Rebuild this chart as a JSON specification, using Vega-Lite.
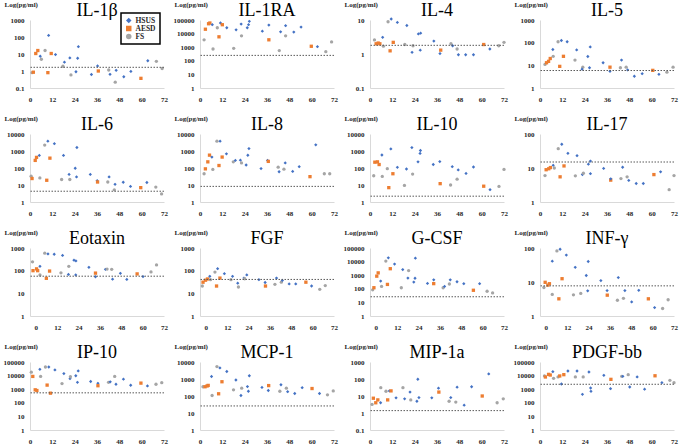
{
  "$schema": "https://vega.github.io/schema/vega-lite/v6.json",
  "background": "white",
  "padding": {"left": 3, "top": 0, "right": 2, "bottom": 2},
  "columns": 4,
  "spacing": {"row": 46, "column": 36},
  "bounds": "flush",
  "datasets": {
    "cutoffs": [
      {"panel": "IL-1β", "value": 1.65}, {"panel": "IL-1RA", "value": 250}, {"panel": "IL-4", "value": 1.8}, {"panel": "IL-5", "value": 5.9},
      {"panel": "IL-6", "value": 4.3}, {"panel": "IL-8", "value": 8.3}, {"panel": "IL-10", "value": 2.2}, {"panel": "IL-17", "value": 15},
      {"panel": "Eotaxin", "value": 57}, {"panel": "FGF", "value": 41}, {"panel": "G-CSF", "value": 26}, {"panel": "INF-γ", "value": 7.7},
      {"panel": "IP-10", "value": 540}, {"panel": "MCP-1", "value": 26}, {"panel": "MIP-1a", "value": 1.38}, {"panel": "PDGF-bb", "value": 2300}
    ],
    "cytokines": [
      {"panel": "IL-1β", "group": "FS", "hour": 1.1, "value": 0.8},
      {"panel": "IL-1β", "group": "AESD", "hour": 1.8, "value": 0.85},
      {"panel": "IL-1β", "group": "AESD", "hour": 3.1, "value": 10.7},
      {"panel": "IL-1β", "group": "AESD", "hour": 4.2, "value": 16},
      {"panel": "IL-1β", "group": "HSUS", "hour": 5.5, "value": 7.4},
      {"panel": "IL-1β", "group": "FS", "hour": 6.1, "value": 4.9},
      {"panel": "IL-1β", "group": "FS", "hour": 8.1, "value": 16},
      {"panel": "IL-1β", "group": "HSUS", "hour": 10, "value": 124},
      {"panel": "IL-1β", "group": "AESD", "hour": 9.6, "value": 0.8},
      {"panel": "IL-1β", "group": "AESD", "hour": 11.4, "value": 10.7},
      {"panel": "IL-1β", "group": "HSUS", "hour": 13.7, "value": 9.3},
      {"panel": "IL-1β", "group": "FS", "hour": 17.7, "value": 1.9},
      {"panel": "IL-1β", "group": "HSUS", "hour": 18.5, "value": 3.3},
      {"panel": "IL-1β", "group": "HSUS", "hour": 21.4, "value": 5.9},
      {"panel": "IL-1β", "group": "FS", "hour": 22, "value": 0.59},
      {"panel": "IL-1β", "group": "HSUS", "hour": 24.7, "value": 0.9},
      {"panel": "IL-1β", "group": "HSUS", "hour": 26, "value": 27},
      {"panel": "IL-1β", "group": "HSUS", "hour": 25.6, "value": 5.6},
      {"panel": "IL-1β", "group": "HSUS", "hour": 33, "value": 0.62},
      {"panel": "IL-1β", "group": "HSUS", "hour": 36.3, "value": 2.0},
      {"panel": "IL-1β", "group": "AESD", "hour": 36.7, "value": 1.0},
      {"panel": "IL-1β", "group": "FS", "hour": 42.3, "value": 1.15},
      {"panel": "IL-1β", "group": "HSUS", "hour": 43, "value": 0.64},
      {"panel": "IL-1β", "group": "HSUS", "hour": 46.3, "value": 1.1},
      {"panel": "IL-1β", "group": "FS", "hour": 45.8, "value": 0.22},
      {"panel": "IL-1β", "group": "HSUS", "hour": 50.4, "value": 0.46},
      {"panel": "IL-1β", "group": "HSUS", "hour": 54.2, "value": 0.95},
      {"panel": "IL-1β", "group": "AESD", "hour": 59.6, "value": 0.37},
      {"panel": "IL-1β", "group": "HSUS", "hour": 63.3, "value": 4.0},
      {"panel": "IL-1β", "group": "FS", "hour": 67.9, "value": 3.7},
      {"panel": "IL-1β", "group": "FS", "hour": 71, "value": 1.4},

      {"panel": "IL-1RA", "group": "FS", "hour": 2.2, "value": 3500},
      {"panel": "IL-1RA", "group": "AESD", "hour": 2.9, "value": 21000},
      {"panel": "IL-1RA", "group": "AESD", "hour": 4.6, "value": 53000},
      {"panel": "IL-1RA", "group": "AESD", "hour": 5.3, "value": 60000},
      {"panel": "IL-1RA", "group": "HSUS", "hour": 6.6, "value": 45000},
      {"panel": "IL-1RA", "group": "FS", "hour": 7, "value": 740},
      {"panel": "IL-1RA", "group": "FS", "hour": 9.3, "value": 27000},
      {"panel": "IL-1RA", "group": "AESD", "hour": 10.2, "value": 5800},
      {"panel": "IL-1RA", "group": "HSUS", "hour": 11, "value": 60000},
      {"panel": "IL-1RA", "group": "AESD", "hour": 12, "value": 45000},
      {"panel": "IL-1RA", "group": "HSUS", "hour": 14.4, "value": 27000},
      {"panel": "IL-1RA", "group": "FS", "hour": 18.1, "value": 830},
      {"panel": "IL-1RA", "group": "HSUS", "hour": 19.4, "value": 19000},
      {"panel": "IL-1RA", "group": "HSUS", "hour": 22.1, "value": 50000},
      {"panel": "IL-1RA", "group": "FS", "hour": 22.3, "value": 6900},
      {"panel": "IL-1RA", "group": "HSUS", "hour": 25.4, "value": 27000},
      {"panel": "IL-1RA", "group": "HSUS", "hour": 26.1, "value": 45000},
      {"panel": "IL-1RA", "group": "HSUS", "hour": 26.5, "value": 80000},
      {"panel": "IL-1RA", "group": "HSUS", "hour": 33.5, "value": 15000},
      {"panel": "IL-1RA", "group": "HSUS", "hour": 37, "value": 42000},
      {"panel": "IL-1RA", "group": "AESD", "hour": 37, "value": 3500},
      {"panel": "IL-1RA", "group": "FS", "hour": 42.6, "value": 560},
      {"panel": "IL-1RA", "group": "HSUS", "hour": 43.3, "value": 13500},
      {"panel": "IL-1RA", "group": "FS", "hour": 46, "value": 6900},
      {"panel": "IL-1RA", "group": "HSUS", "hour": 46, "value": 38000},
      {"panel": "IL-1RA", "group": "HSUS", "hour": 50.4, "value": 13000},
      {"panel": "IL-1RA", "group": "HSUS", "hour": 54.3, "value": 30000},
      {"panel": "IL-1RA", "group": "AESD", "hour": 59.8, "value": 1170},
      {"panel": "IL-1RA", "group": "HSUS", "hour": 63.1, "value": 1100},
      {"panel": "IL-1RA", "group": "FS", "hour": 67.6, "value": 470},
      {"panel": "IL-1RA", "group": "FS", "hour": 70.7, "value": 2450},

      {"panel": "IL-4", "group": "FS", "hour": 2.4, "value": 2.6},
      {"panel": "IL-4", "group": "AESD", "hour": 3.3, "value": 2.0},
      {"panel": "IL-4", "group": "AESD", "hour": 4.4, "value": 2.1},
      {"panel": "IL-4", "group": "AESD", "hour": 5.3, "value": 2.0},
      {"panel": "IL-4", "group": "HSUS", "hour": 6.8, "value": 3.1},
      {"panel": "IL-4", "group": "FS", "hour": 7.2, "value": 1.7},
      {"panel": "IL-4", "group": "FS", "hour": 9.7, "value": 8.9},
      {"panel": "IL-4", "group": "HSUS", "hour": 11.4, "value": 10.7},
      {"panel": "IL-4", "group": "AESD", "hour": 12.5, "value": 2.2},
      {"panel": "IL-4", "group": "AESD", "hour": 10.8, "value": 1.24},
      {"panel": "IL-4", "group": "HSUS", "hour": 14.7, "value": 8.5},
      {"panel": "IL-4", "group": "FS", "hour": 18.7, "value": 1.9},
      {"panel": "IL-4", "group": "HSUS", "hour": 19.8, "value": 6.9},
      {"panel": "IL-4", "group": "HSUS", "hour": 22.6, "value": 1.12},
      {"panel": "IL-4", "group": "FS", "hour": 23.1, "value": 1.75},
      {"panel": "IL-4", "group": "HSUS", "hour": 26, "value": 3.9},
      {"panel": "IL-4", "group": "HSUS", "hour": 27.2, "value": 4.1},
      {"panel": "IL-4", "group": "HSUS", "hour": 27, "value": 1.3},
      {"panel": "IL-4", "group": "HSUS", "hour": 34.3, "value": 2.4},
      {"panel": "IL-4", "group": "AESD", "hour": 38, "value": 1.3},
      {"panel": "IL-4", "group": "HSUS", "hour": 37.6, "value": 1.03},
      {"panel": "IL-4", "group": "FS", "hour": 43.5, "value": 2.0},
      {"panel": "IL-4", "group": "HSUS", "hour": 44.4, "value": 1.75},
      {"panel": "IL-4", "group": "FS", "hour": 46.8, "value": 1.4},
      {"panel": "IL-4", "group": "HSUS", "hour": 47.5, "value": 0.95},
      {"panel": "IL-4", "group": "HSUS", "hour": 51.4, "value": 0.95},
      {"panel": "IL-4", "group": "HSUS", "hour": 55.6, "value": 0.95},
      {"panel": "IL-4", "group": "AESD", "hour": 61.1, "value": 1.9},
      {"panel": "IL-4", "group": "HSUS", "hour": 64.4, "value": 1.4},
      {"panel": "IL-4", "group": "FS", "hour": 69.2, "value": 1.75},
      {"panel": "IL-4", "group": "FS", "hour": 72, "value": 2.2},

      {"panel": "IL-5", "group": "FS", "hour": 2.7, "value": 11},
      {"panel": "IL-5", "group": "AESD", "hour": 3.5, "value": 13},
      {"panel": "IL-5", "group": "AESD", "hour": 4.6, "value": 15},
      {"panel": "IL-5", "group": "AESD", "hour": 5.5, "value": 20},
      {"panel": "IL-5", "group": "FS", "hour": 7.1, "value": 25},
      {"panel": "IL-5", "group": "HSUS", "hour": 6.9, "value": 50},
      {"panel": "IL-5", "group": "FS", "hour": 9.7, "value": 110},
      {"panel": "IL-5", "group": "AESD", "hour": 10.6, "value": 9},
      {"panel": "IL-5", "group": "HSUS", "hour": 11.5, "value": 125},
      {"panel": "IL-5", "group": "AESD", "hour": 12.6, "value": 25},
      {"panel": "IL-5", "group": "HSUS", "hour": 14.6, "value": 110},
      {"panel": "IL-5", "group": "FS", "hour": 18.8, "value": 17},
      {"panel": "IL-5", "group": "HSUS", "hour": 19.7, "value": 48},
      {"panel": "IL-5", "group": "FS", "hour": 23, "value": 8.3},
      {"panel": "IL-5", "group": "HSUS", "hour": 22.6, "value": 6.8},
      {"panel": "IL-5", "group": "HSUS", "hour": 25.7, "value": 24.5},
      {"panel": "IL-5", "group": "HSUS", "hour": 27, "value": 65},
      {"panel": "IL-5", "group": "HSUS", "hour": 26.6, "value": 7.8},
      {"panel": "IL-5", "group": "HSUS", "hour": 33.9, "value": 13},
      {"panel": "IL-5", "group": "AESD", "hour": 37.6, "value": 8.3},
      {"panel": "IL-5", "group": "HSUS", "hour": 37.6, "value": 5.5},
      {"panel": "IL-5", "group": "FS", "hour": 43.2, "value": 7.8},
      {"panel": "IL-5", "group": "HSUS", "hour": 43.8, "value": 17},
      {"panel": "IL-5", "group": "FS", "hour": 46.3, "value": 8.3},
      {"panel": "IL-5", "group": "HSUS", "hour": 47.1, "value": 6.3},
      {"panel": "IL-5", "group": "HSUS", "hour": 50.7, "value": 3.3},
      {"panel": "IL-5", "group": "HSUS", "hour": 54.9, "value": 4.3},
      {"panel": "IL-5", "group": "AESD", "hour": 60.6, "value": 6},
      {"panel": "IL-5", "group": "HSUS", "hour": 63.9, "value": 4},
      {"panel": "IL-5", "group": "FS", "hour": 68.2, "value": 5},
      {"panel": "IL-5", "group": "FS", "hour": 71.5, "value": 8.3},

      {"panel": "IL-6", "group": "FS", "hour": 0.6, "value": 33},
      {"panel": "IL-6", "group": "AESD", "hour": 1.1, "value": 24},
      {"panel": "IL-6", "group": "AESD", "hour": 2.8, "value": 280},
      {"panel": "IL-6", "group": "AESD", "hour": 3.5, "value": 420},
      {"panel": "IL-6", "group": "HSUS", "hour": 5, "value": 550},
      {"panel": "IL-6", "group": "FS", "hour": 5.3, "value": 26},
      {"panel": "IL-6", "group": "FS", "hour": 7.9, "value": 2240},
      {"panel": "IL-6", "group": "HSUS", "hour": 9.6, "value": 3800},
      {"panel": "IL-6", "group": "AESD", "hour": 9, "value": 19},
      {"panel": "IL-6", "group": "AESD", "hour": 10.7, "value": 380},
      {"panel": "IL-6", "group": "HSUS", "hour": 13.1, "value": 2700},
      {"panel": "IL-6", "group": "FS", "hour": 17, "value": 21},
      {"panel": "IL-6", "group": "HSUS", "hour": 18, "value": 550},
      {"panel": "IL-6", "group": "HSUS", "hour": 21, "value": 42},
      {"panel": "IL-6", "group": "FS", "hour": 21.4, "value": 21},
      {"panel": "IL-6", "group": "HSUS", "hour": 24.3, "value": 97},
      {"panel": "IL-6", "group": "HSUS", "hour": 25.2, "value": 1600},
      {"panel": "IL-6", "group": "HSUS", "hour": 25, "value": 30},
      {"panel": "IL-6", "group": "HSUS", "hour": 32.4, "value": 42},
      {"panel": "IL-6", "group": "HSUS", "hour": 36.1, "value": 18},
      {"panel": "IL-6", "group": "AESD", "hour": 36.3, "value": 15},
      {"panel": "IL-6", "group": "FS", "hour": 41.8, "value": 15},
      {"panel": "IL-6", "group": "HSUS", "hour": 42.5, "value": 30},
      {"panel": "IL-6", "group": "FS", "hour": 45.3, "value": 5.2},
      {"panel": "IL-6", "group": "HSUS", "hour": 45.7, "value": 11},
      {"panel": "IL-6", "group": "HSUS", "hour": 50.1, "value": 14.5},
      {"panel": "IL-6", "group": "HSUS", "hour": 54, "value": 8.3},
      {"panel": "IL-6", "group": "AESD", "hour": 59.5, "value": 7},
      {"panel": "IL-6", "group": "HSUS", "hour": 62.8, "value": 14},
      {"panel": "IL-6", "group": "FS", "hour": 67.6, "value": 7.5},
      {"panel": "IL-6", "group": "FS", "hour": 70.7, "value": 3},

      {"panel": "IL-8", "group": "FS", "hour": 2.2, "value": 46},
      {"panel": "IL-8", "group": "AESD", "hour": 2.9, "value": 89},
      {"panel": "IL-8", "group": "AESD", "hour": 4.2, "value": 230},
      {"panel": "IL-8", "group": "AESD", "hour": 5.1, "value": 570},
      {"panel": "IL-8", "group": "HSUS", "hour": 6.4, "value": 440},
      {"panel": "IL-8", "group": "FS", "hour": 6.9, "value": 82},
      {"panel": "IL-8", "group": "FS", "hour": 9.1, "value": 3800},
      {"panel": "IL-8", "group": "HSUS", "hour": 10.8, "value": 3800},
      {"panel": "IL-8", "group": "AESD", "hour": 10.2, "value": 140},
      {"panel": "IL-8", "group": "AESD", "hour": 11.9, "value": 440},
      {"panel": "IL-8", "group": "HSUS", "hour": 14.2, "value": 680},
      {"panel": "IL-8", "group": "FS", "hour": 17.9, "value": 230},
      {"panel": "IL-8", "group": "HSUS", "hour": 19, "value": 280},
      {"panel": "IL-8", "group": "HSUS", "hour": 21.7, "value": 290},
      {"panel": "IL-8", "group": "FS", "hour": 22.3, "value": 200},
      {"panel": "IL-8", "group": "HSUS", "hour": 24.8, "value": 150},
      {"panel": "IL-8", "group": "HSUS", "hour": 25.7, "value": 560},
      {"panel": "IL-8", "group": "HSUS", "hour": 26.3, "value": 1380},
      {"panel": "IL-8", "group": "HSUS", "hour": 32.8, "value": 93},
      {"panel": "IL-8", "group": "HSUS", "hour": 36.3, "value": 280},
      {"panel": "IL-8", "group": "AESD", "hour": 36.7, "value": 245},
      {"panel": "IL-8", "group": "FS", "hour": 42, "value": 112},
      {"panel": "IL-8", "group": "HSUS", "hour": 42.5, "value": 60},
      {"panel": "IL-8", "group": "FS", "hour": 45.1, "value": 85},
      {"panel": "IL-8", "group": "HSUS", "hour": 45.8, "value": 200},
      {"panel": "IL-8", "group": "HSUS", "hour": 49.8, "value": 63},
      {"panel": "IL-8", "group": "HSUS", "hour": 53.3, "value": 120},
      {"panel": "IL-8", "group": "AESD", "hour": 59.1, "value": 31},
      {"panel": "IL-8", "group": "HSUS", "hour": 62.2, "value": 2300},
      {"panel": "IL-8", "group": "FS", "hour": 66.8, "value": 46},
      {"panel": "IL-8", "group": "FS", "hour": 69.7, "value": 46},

      {"panel": "IL-10", "group": "FS", "hour": 2, "value": 35},
      {"panel": "IL-10", "group": "AESD", "hour": 2.6, "value": 220},
      {"panel": "IL-10", "group": "AESD", "hour": 4, "value": 230},
      {"panel": "IL-10", "group": "AESD", "hour": 4.9, "value": 160},
      {"panel": "IL-10", "group": "HSUS", "hour": 6.4, "value": 580},
      {"panel": "IL-10", "group": "FS", "hour": 6.6, "value": 32},
      {"panel": "IL-10", "group": "FS", "hour": 9.3, "value": 91},
      {"panel": "IL-10", "group": "HSUS", "hour": 11.2, "value": 1330},
      {"panel": "IL-10", "group": "AESD", "hour": 10.1, "value": 7},
      {"panel": "IL-10", "group": "AESD", "hour": 12.3, "value": 46},
      {"panel": "IL-10", "group": "HSUS", "hour": 14.7, "value": 110},
      {"panel": "IL-10", "group": "FS", "hour": 18.5, "value": 9.4},
      {"panel": "IL-10", "group": "HSUS", "hour": 19.6, "value": 87},
      {"panel": "IL-10", "group": "HSUS", "hour": 22.5, "value": 1580},
      {"panel": "IL-10", "group": "FS", "hour": 22.9, "value": 44},
      {"panel": "IL-10", "group": "HSUS", "hour": 25.8, "value": 230},
      {"panel": "IL-10", "group": "HSUS", "hour": 26.9, "value": 720},
      {"panel": "IL-10", "group": "HSUS", "hour": 27.1, "value": 1070},
      {"panel": "IL-10", "group": "HSUS", "hour": 34, "value": 160},
      {"panel": "IL-10", "group": "HSUS", "hour": 37.5, "value": 240},
      {"panel": "IL-10", "group": "AESD", "hour": 37.7, "value": 12},
      {"panel": "IL-10", "group": "FS", "hour": 43.3, "value": 10},
      {"panel": "IL-10", "group": "HSUS", "hour": 44.2, "value": 120},
      {"panel": "IL-10", "group": "FS", "hour": 46.8, "value": 22},
      {"panel": "IL-10", "group": "HSUS", "hour": 47.4, "value": 77},
      {"panel": "IL-10", "group": "HSUS", "hour": 51.6, "value": 48},
      {"panel": "IL-10", "group": "HSUS", "hour": 55.6, "value": 115},
      {"panel": "IL-10", "group": "AESD", "hour": 61.1, "value": 8.5},
      {"panel": "IL-10", "group": "HSUS", "hour": 64.5, "value": 5.3},
      {"panel": "IL-10", "group": "FS", "hour": 69.3, "value": 8.2},
      {"panel": "IL-10", "group": "FS", "hour": 72, "value": 83},

      {"panel": "IL-17", "group": "FS", "hour": 2.7, "value": 6},
      {"panel": "IL-17", "group": "AESD", "hour": 3.3, "value": 8.9},
      {"panel": "IL-17", "group": "AESD", "hour": 4.7, "value": 9.5},
      {"panel": "IL-17", "group": "AESD", "hour": 5.6, "value": 10.3},
      {"panel": "IL-17", "group": "HSUS", "hour": 7.1, "value": 12},
      {"panel": "IL-17", "group": "FS", "hour": 7.7, "value": 10},
      {"panel": "IL-17", "group": "FS", "hour": 9.8, "value": 37},
      {"panel": "IL-17", "group": "HSUS", "hour": 11.7, "value": 50},
      {"panel": "IL-17", "group": "AESD", "hour": 10.8, "value": 5.5},
      {"panel": "IL-17", "group": "AESD", "hour": 12.9, "value": 11.5},
      {"panel": "IL-17", "group": "HSUS", "hour": 15, "value": 27},
      {"panel": "IL-17", "group": "FS", "hour": 19, "value": 5.9},
      {"panel": "IL-17", "group": "HSUS", "hour": 19.9, "value": 23},
      {"panel": "IL-17", "group": "HSUS", "hour": 22.8, "value": 6.4},
      {"panel": "IL-17", "group": "FS", "hour": 23.3, "value": 7},
      {"panel": "IL-17", "group": "HSUS", "hour": 26, "value": 13},
      {"panel": "IL-17", "group": "HSUS", "hour": 27.1, "value": 16},
      {"panel": "IL-17", "group": "HSUS", "hour": 27.1, "value": 6.8},
      {"panel": "IL-17", "group": "HSUS", "hour": 34.2, "value": 9.7},
      {"panel": "IL-17", "group": "AESD", "hour": 38, "value": 4.4},
      {"panel": "IL-17", "group": "HSUS", "hour": 38, "value": 4.8},
      {"panel": "IL-17", "group": "FS", "hour": 43.5, "value": 4.9},
      {"panel": "IL-17", "group": "HSUS", "hour": 44.4, "value": 10.5},
      {"panel": "IL-17", "group": "FS", "hour": 46.8, "value": 5.5},
      {"panel": "IL-17", "group": "HSUS", "hour": 47.7, "value": 4.3},
      {"panel": "IL-17", "group": "HSUS", "hour": 51.7, "value": 3.5},
      {"panel": "IL-17", "group": "HSUS", "hour": 55.5, "value": 3.5},
      {"panel": "IL-17", "group": "AESD", "hour": 61.2, "value": 6.4},
      {"panel": "IL-17", "group": "HSUS", "hour": 64.8, "value": 7.7},
      {"panel": "IL-17", "group": "FS", "hour": 69.4, "value": 2.3},
      {"panel": "IL-17", "group": "FS", "hour": 72, "value": 6},

      {"panel": "Eotaxin", "group": "FS", "hour": -1.9, "value": 245},
      {"panel": "Eotaxin", "group": "AESD", "hour": -1.6, "value": 100},
      {"panel": "Eotaxin", "group": "AESD", "hour": 0.4, "value": 120},
      {"panel": "Eotaxin", "group": "AESD", "hour": 1.0, "value": 100},
      {"panel": "Eotaxin", "group": "HSUS", "hour": 2.3, "value": 155},
      {"panel": "Eotaxin", "group": "FS", "hour": 2.3, "value": 65},
      {"panel": "Eotaxin", "group": "FS", "hour": 5, "value": 590},
      {"panel": "Eotaxin", "group": "HSUS", "hour": 6.8, "value": 550},
      {"panel": "Eotaxin", "group": "AESD", "hour": 5.9, "value": 46},
      {"panel": "Eotaxin", "group": "AESD", "hour": 7.7, "value": 96},
      {"panel": "Eotaxin", "group": "HSUS", "hour": 10.3, "value": 530},
      {"panel": "Eotaxin", "group": "FS", "hour": 14.1, "value": 80},
      {"panel": "Eotaxin", "group": "HSUS", "hour": 15, "value": 470},
      {"panel": "Eotaxin", "group": "FS", "hour": 18.5, "value": 155},
      {"panel": "Eotaxin", "group": "HSUS", "hour": 18.3, "value": 68},
      {"panel": "Eotaxin", "group": "HSUS", "hour": 21.4, "value": 290},
      {"panel": "Eotaxin", "group": "HSUS", "hour": 22.5, "value": 270},
      {"panel": "Eotaxin", "group": "HSUS", "hour": 22.4, "value": 65},
      {"panel": "Eotaxin", "group": "HSUS", "hour": 29.8, "value": 140},
      {"panel": "Eotaxin", "group": "AESD", "hour": 33.5, "value": 78},
      {"panel": "Eotaxin", "group": "HSUS", "hour": 33.5, "value": 54},
      {"panel": "Eotaxin", "group": "HSUS", "hour": 39.1, "value": 115},
      {"panel": "Eotaxin", "group": "FS", "hour": 40, "value": 118},
      {"panel": "Eotaxin", "group": "FS", "hour": 42.6, "value": 115},
      {"panel": "Eotaxin", "group": "HSUS", "hour": 43.1, "value": 42},
      {"panel": "Eotaxin", "group": "HSUS", "hour": 47.5, "value": 76},
      {"panel": "Eotaxin", "group": "HSUS", "hour": 51.1, "value": 41},
      {"panel": "Eotaxin", "group": "AESD", "hour": 56.9, "value": 72},
      {"panel": "Eotaxin", "group": "HSUS", "hour": 60.2, "value": 55},
      {"panel": "Eotaxin", "group": "FS", "hour": 64.7, "value": 88},
      {"panel": "Eotaxin", "group": "FS", "hour": 67.8, "value": 180},

      {"panel": "FGF", "group": "FS", "hour": -2, "value": 21},
      {"panel": "FGF", "group": "AESD", "hour": -1.6, "value": 31},
      {"panel": "FGF", "group": "AESD", "hour": -0.2, "value": 38},
      {"panel": "FGF", "group": "AESD", "hour": 0.9, "value": 43},
      {"panel": "FGF", "group": "HSUS", "hour": 2.2, "value": 56},
      {"panel": "FGF", "group": "FS", "hour": 2.6, "value": 40},
      {"panel": "FGF", "group": "FS", "hour": 5.1, "value": 87},
      {"panel": "FGF", "group": "HSUS", "hour": 6.6, "value": 123},
      {"panel": "FGF", "group": "AESD", "hour": 6, "value": 21},
      {"panel": "FGF", "group": "AESD", "hour": 7.9, "value": 47},
      {"panel": "FGF", "group": "HSUS", "hour": 10.4, "value": 74},
      {"panel": "FGF", "group": "FS", "hour": 14.1, "value": 40},
      {"panel": "FGF", "group": "HSUS", "hour": 15, "value": 56},
      {"panel": "FGF", "group": "HSUS", "hour": 17.9, "value": 28},
      {"panel": "FGF", "group": "FS", "hour": 18.3, "value": 19},
      {"panel": "FGF", "group": "HSUS", "hour": 21.4, "value": 47},
      {"panel": "FGF", "group": "FS", "hour": 21.8, "value": 44},
      {"panel": "FGF", "group": "HSUS", "hour": 23, "value": 65},
      {"panel": "FGF", "group": "HSUS", "hour": 29.8, "value": 40},
      {"panel": "FGF", "group": "HSUS", "hour": 33.3, "value": 30},
      {"panel": "FGF", "group": "AESD", "hour": 33.5, "value": 21},
      {"panel": "FGF", "group": "FS", "hour": 38.8, "value": 25},
      {"panel": "FGF", "group": "HSUS", "hour": 39.7, "value": 47},
      {"panel": "FGF", "group": "FS", "hour": 42.4, "value": 31},
      {"panel": "FGF", "group": "HSUS", "hour": 43, "value": 37},
      {"panel": "FGF", "group": "HSUS", "hour": 46.8, "value": 26},
      {"panel": "FGF", "group": "HSUS", "hour": 50.5, "value": 26},
      {"panel": "FGF", "group": "AESD", "hour": 56.2, "value": 31},
      {"panel": "FGF", "group": "HSUS", "hour": 59.4, "value": 21},
      {"panel": "FGF", "group": "FS", "hour": 64, "value": 15},
      {"panel": "FGF", "group": "FS", "hour": 67.1, "value": 22},

      {"panel": "G-CSF", "group": "FS", "hour": -1.8, "value": 84},
      {"panel": "G-CSF", "group": "AESD", "hour": -1.1, "value": 120},
      {"panel": "G-CSF", "group": "AESD", "hour": 0.5, "value": 850},
      {"panel": "G-CSF", "group": "AESD", "hour": 1.3, "value": 1480},
      {"panel": "G-CSF", "group": "HSUS", "hour": 2.7, "value": 370},
      {"panel": "G-CSF", "group": "FS", "hour": 3.2, "value": 150},
      {"panel": "G-CSF", "group": "FS", "hour": 5.6, "value": 11000},
      {"panel": "G-CSF", "group": "HSUS", "hour": 7, "value": 19000},
      {"panel": "G-CSF", "group": "AESD", "hour": 6.5, "value": 210},
      {"panel": "G-CSF", "group": "AESD", "hour": 8.1, "value": 3000},
      {"panel": "G-CSF", "group": "HSUS", "hour": 10.5, "value": 6600},
      {"panel": "G-CSF", "group": "FS", "hour": 14.3, "value": 120},
      {"panel": "G-CSF", "group": "HSUS", "hour": 15.1, "value": 2600},
      {"panel": "G-CSF", "group": "HSUS", "hour": 18, "value": 610},
      {"panel": "G-CSF", "group": "FS", "hour": 18.4, "value": 2200},
      {"panel": "G-CSF", "group": "HSUS", "hour": 21.3, "value": 310},
      {"panel": "G-CSF", "group": "HSUS", "hour": 22.2, "value": 18000},
      {"panel": "G-CSF", "group": "HSUS", "hour": 22, "value": 600},
      {"panel": "G-CSF", "group": "HSUS", "hour": 29, "value": 250},
      {"panel": "G-CSF", "group": "AESD", "hour": 32.5, "value": 240},
      {"panel": "G-CSF", "group": "HSUS", "hour": 32.5, "value": 460},
      {"panel": "G-CSF", "group": "FS", "hour": 37.8, "value": 120},
      {"panel": "G-CSF", "group": "HSUS", "hour": 38.6, "value": 150},
      {"panel": "G-CSF", "group": "FS", "hour": 41.3, "value": 225},
      {"panel": "G-CSF", "group": "HSUS", "hour": 41.8, "value": 460},
      {"panel": "G-CSF", "group": "HSUS", "hour": 45.6, "value": 330},
      {"panel": "G-CSF", "group": "HSUS", "hour": 49.4, "value": 240},
      {"panel": "G-CSF", "group": "AESD", "hour": 54.8, "value": 78},
      {"panel": "G-CSF", "group": "HSUS", "hour": 58.3, "value": 240},
      {"panel": "G-CSF", "group": "FS", "hour": 62.5, "value": 66},
      {"panel": "G-CSF", "group": "FS", "hour": 65.6, "value": 50},

      {"panel": "INF-γ", "group": "FS", "hour": -1.1, "value": 6.9},
      {"panel": "INF-γ", "group": "AESD", "hour": -0.4, "value": 9.8},
      {"panel": "INF-γ", "group": "AESD", "hour": 1.1, "value": 8.1},
      {"panel": "INF-γ", "group": "AESD", "hour": 2, "value": 8.9},
      {"panel": "INF-γ", "group": "HSUS", "hour": 3.6, "value": 41},
      {"panel": "INF-γ", "group": "FS", "hour": 3.6, "value": 4.3},
      {"panel": "INF-γ", "group": "FS", "hour": 6.2, "value": 82},
      {"panel": "INF-γ", "group": "HSUS", "hour": 8, "value": 92},
      {"panel": "INF-γ", "group": "AESD", "hour": 7.3, "value": 3.2},
      {"panel": "INF-γ", "group": "AESD", "hour": 9.1, "value": 12.5},
      {"panel": "INF-γ", "group": "HSUS", "hour": 11.5, "value": 62},
      {"panel": "INF-γ", "group": "FS", "hour": 15.5, "value": 4.2},
      {"panel": "INF-γ", "group": "HSUS", "hour": 16.5, "value": 27},
      {"panel": "INF-γ", "group": "FS", "hour": 19.6, "value": 4.6},
      {"panel": "INF-γ", "group": "HSUS", "hour": 22.7, "value": 15.5},
      {"panel": "INF-γ", "group": "HSUS", "hour": 23.8, "value": 40},
      {"panel": "INF-γ", "group": "HSUS", "hour": 23.5, "value": 5.5},
      {"panel": "INF-γ", "group": "HSUS", "hour": 30.9, "value": 11},
      {"panel": "INF-γ", "group": "HSUS", "hour": 34.4, "value": 5.6},
      {"panel": "INF-γ", "group": "AESD", "hour": 34.5, "value": 4.1},
      {"panel": "INF-γ", "group": "FS", "hour": 40.2, "value": 2.9},
      {"panel": "INF-γ", "group": "HSUS", "hour": 40.7, "value": 13.5},
      {"panel": "INF-γ", "group": "FS", "hour": 43.6, "value": 3.3},
      {"panel": "INF-γ", "group": "HSUS", "hour": 44.4, "value": 5.6},
      {"panel": "INF-γ", "group": "HSUS", "hour": 48.2, "value": 2.6},
      {"panel": "INF-γ", "group": "HSUS", "hour": 52.2, "value": 5.7},
      {"panel": "INF-γ", "group": "AESD", "hour": 57.6, "value": 3.2},
      {"panel": "INF-γ", "group": "HSUS", "hour": 61.1, "value": 1.77},
      {"panel": "INF-γ", "group": "FS", "hour": 65.6, "value": 1.66},
      {"panel": "INF-γ", "group": "FS", "hour": 68.7, "value": 3},

      {"panel": "IP-10", "group": "FS", "hour": 0.7, "value": 18000},
      {"panel": "IP-10", "group": "AESD", "hour": 1.5, "value": 8700},
      {"panel": "IP-10", "group": "AESD", "hour": 2.8, "value": 900},
      {"panel": "IP-10", "group": "AESD", "hour": 3.7, "value": 800},
      {"panel": "IP-10", "group": "HSUS", "hour": 5.3, "value": 29000},
      {"panel": "IP-10", "group": "FS", "hour": 5.7, "value": 8700},
      {"panel": "IP-10", "group": "FS", "hour": 8.3, "value": 43000},
      {"panel": "IP-10", "group": "HSUS", "hour": 10.1, "value": 43000},
      {"panel": "IP-10", "group": "AESD", "hour": 9.2, "value": 2000},
      {"panel": "IP-10", "group": "AESD", "hour": 11, "value": 510},
      {"panel": "IP-10", "group": "HSUS", "hour": 13.4, "value": 26000},
      {"panel": "IP-10", "group": "FS", "hour": 17.2, "value": 2600},
      {"panel": "IP-10", "group": "HSUS", "hour": 18.2, "value": 14000},
      {"panel": "IP-10", "group": "HSUS", "hour": 21.5, "value": 5900},
      {"panel": "IP-10", "group": "FS", "hour": 21.7, "value": 8200},
      {"panel": "IP-10", "group": "HSUS", "hour": 24.6, "value": 9800},
      {"panel": "IP-10", "group": "HSUS", "hour": 25.9, "value": 22000},
      {"panel": "IP-10", "group": "HSUS", "hour": 25.5, "value": 3200},
      {"panel": "IP-10", "group": "HSUS", "hour": 32.6, "value": 3700},
      {"panel": "IP-10", "group": "HSUS", "hour": 36.5, "value": 2700},
      {"panel": "IP-10", "group": "AESD", "hour": 36.5, "value": 1800},
      {"panel": "IP-10", "group": "FS", "hour": 42.2, "value": 3200},
      {"panel": "IP-10", "group": "HSUS", "hour": 43.1, "value": 3500},
      {"panel": "IP-10", "group": "FS", "hour": 45.5, "value": 8700},
      {"panel": "IP-10", "group": "HSUS", "hour": 46.2, "value": 2300},
      {"panel": "IP-10", "group": "HSUS", "hour": 50.2, "value": 5500},
      {"panel": "IP-10", "group": "HSUS", "hour": 54.1, "value": 1950},
      {"panel": "IP-10", "group": "AESD", "hour": 59.6, "value": 2800},
      {"panel": "IP-10", "group": "HSUS", "hour": 63.1, "value": 1750},
      {"panel": "IP-10", "group": "FS", "hour": 67.7, "value": 2300},
      {"panel": "IP-10", "group": "FS", "hour": 70.8, "value": 3000},

      {"panel": "MCP-1", "group": "FS", "hour": 1.6, "value": 350},
      {"panel": "MCP-1", "group": "AESD", "hour": 2.7, "value": 350},
      {"panel": "MCP-1", "group": "AESD", "hour": 3.8, "value": 390},
      {"panel": "MCP-1", "group": "AESD", "hour": 4.4, "value": 420},
      {"panel": "MCP-1", "group": "HSUS", "hour": 6.2, "value": 1400},
      {"panel": "MCP-1", "group": "FS", "hour": 6.5, "value": 107},
      {"panel": "MCP-1", "group": "FS", "hour": 9.1, "value": 5400},
      {"panel": "MCP-1", "group": "HSUS", "hour": 10.7, "value": 4500},
      {"panel": "MCP-1", "group": "AESD", "hour": 10, "value": 135},
      {"panel": "MCP-1", "group": "AESD", "hour": 11.8, "value": 690},
      {"panel": "MCP-1", "group": "HSUS", "hour": 14.4, "value": 2750},
      {"panel": "MCP-1", "group": "FS", "hour": 18, "value": 230},
      {"panel": "MCP-1", "group": "HSUS", "hour": 19.3, "value": 870},
      {"panel": "MCP-1", "group": "HSUS", "hour": 22, "value": 107},
      {"panel": "MCP-1", "group": "FS", "hour": 22.4, "value": 290},
      {"panel": "MCP-1", "group": "HSUS", "hour": 25.5, "value": 360},
      {"panel": "MCP-1", "group": "HSUS", "hour": 26, "value": 190},
      {"panel": "MCP-1", "group": "HSUS", "hour": 26.5, "value": 1550},
      {"panel": "MCP-1", "group": "HSUS", "hour": 33.3, "value": 320},
      {"panel": "MCP-1", "group": "HSUS", "hour": 36.7, "value": 210},
      {"panel": "MCP-1", "group": "AESD", "hour": 36.9, "value": 410},
      {"panel": "MCP-1", "group": "FS", "hour": 42.9, "value": 190},
      {"panel": "MCP-1", "group": "HSUS", "hour": 43.5, "value": 460},
      {"panel": "MCP-1", "group": "FS", "hour": 46.4, "value": 290},
      {"panel": "MCP-1", "group": "HSUS", "hour": 47.1, "value": 180},
      {"panel": "MCP-1", "group": "HSUS", "hour": 50.9, "value": 140},
      {"panel": "MCP-1", "group": "HSUS", "hour": 54.9, "value": 310},
      {"panel": "MCP-1", "group": "AESD", "hour": 60.2, "value": 275},
      {"panel": "MCP-1", "group": "HSUS", "hour": 64.2, "value": 140},
      {"panel": "MCP-1", "group": "FS", "hour": 68.5, "value": 117},
      {"panel": "MCP-1", "group": "FS", "hour": 71.6, "value": 200},

      {"panel": "MIP-1a", "group": "FS", "hour": 1.1, "value": 3.2},
      {"panel": "MIP-1a", "group": "AESD", "hour": 1.8, "value": 7.4},
      {"panel": "MIP-1a", "group": "AESD", "hour": 3.1, "value": 4.0},
      {"panel": "MIP-1a", "group": "AESD", "hour": 4.2, "value": 5.9},
      {"panel": "MIP-1a", "group": "HSUS", "hour": 5.7, "value": 4.0},
      {"panel": "MIP-1a", "group": "FS", "hour": 5.8, "value": 31},
      {"panel": "MIP-1a", "group": "FS", "hour": 8.6, "value": 19},
      {"panel": "MIP-1a", "group": "HSUS", "hour": 10.4, "value": 20},
      {"panel": "MIP-1a", "group": "AESD", "hour": 9.5, "value": 5.9},
      {"panel": "MIP-1a", "group": "AESD", "hour": 11.3, "value": 20},
      {"panel": "MIP-1a", "group": "HSUS", "hour": 14, "value": 7.8},
      {"panel": "MIP-1a", "group": "FS", "hour": 17.7, "value": 31},
      {"panel": "MIP-1a", "group": "HSUS", "hour": 18.6, "value": 6.8},
      {"panel": "MIP-1a", "group": "HSUS", "hour": 21.5, "value": 17},
      {"panel": "MIP-1a", "group": "FS", "hour": 21.9, "value": 5.9},
      {"panel": "MIP-1a", "group": "HSUS", "hour": 25.2, "value": 4.9},
      {"panel": "MIP-1a", "group": "HSUS", "hour": 25.7, "value": 97},
      {"panel": "MIP-1a", "group": "HSUS", "hour": 26.3, "value": 8.1},
      {"panel": "MIP-1a", "group": "HSUS", "hour": 33.2, "value": 7.8},
      {"panel": "MIP-1a", "group": "HSUS", "hour": 36.8, "value": 29},
      {"panel": "MIP-1a", "group": "AESD", "hour": 37, "value": 17},
      {"panel": "MIP-1a", "group": "FS", "hour": 42.5, "value": 4.9},
      {"panel": "MIP-1a", "group": "HSUS", "hour": 43.4, "value": 8.1},
      {"panel": "MIP-1a", "group": "FS", "hour": 46.1, "value": 4.4},
      {"panel": "MIP-1a", "group": "HSUS", "hour": 46.8, "value": 33},
      {"panel": "MIP-1a", "group": "HSUS", "hour": 50.6, "value": 2.9},
      {"panel": "MIP-1a", "group": "HSUS", "hour": 54.6, "value": 35},
      {"panel": "MIP-1a", "group": "AESD", "hour": 60.3, "value": 10},
      {"panel": "MIP-1a", "group": "HSUS", "hour": 63.8, "value": 200},
      {"panel": "MIP-1a", "group": "FS", "hour": 68.3, "value": 4.0},
      {"panel": "MIP-1a", "group": "FS", "hour": 71.6, "value": 6.8},

      {"panel": "PDGF-bb", "group": "FS", "hour": 2.4, "value": 9400},
      {"panel": "PDGF-bb", "group": "AESD", "hour": 2.9, "value": 7900},
      {"panel": "PDGF-bb", "group": "AESD", "hour": 4.6, "value": 12300},
      {"panel": "PDGF-bb", "group": "AESD", "hour": 5.5, "value": 11000},
      {"panel": "PDGF-bb", "group": "HSUS", "hour": 6.9, "value": 19500},
      {"panel": "PDGF-bb", "group": "FS", "hour": 7.3, "value": 6300},
      {"panel": "PDGF-bb", "group": "FS", "hour": 9.7, "value": 8000},
      {"panel": "PDGF-bb", "group": "HSUS", "hour": 11.5, "value": 2400},
      {"panel": "PDGF-bb", "group": "AESD", "hour": 10.6, "value": 9400},
      {"panel": "PDGF-bb", "group": "AESD", "hour": 12.8, "value": 11700},
      {"panel": "PDGF-bb", "group": "HSUS", "hour": 15, "value": 21700},
      {"panel": "PDGF-bb", "group": "FS", "hour": 19, "value": 8000},
      {"panel": "PDGF-bb", "group": "HSUS", "hour": 19.9, "value": 21700},
      {"panel": "PDGF-bb", "group": "FS", "hour": 23.2, "value": 8000},
      {"panel": "PDGF-bb", "group": "HSUS", "hour": 22.8, "value": 420},
      {"panel": "PDGF-bb", "group": "HSUS", "hour": 26.3, "value": 18300},
      {"panel": "PDGF-bb", "group": "HSUS", "hour": 27.2, "value": 1230},
      {"panel": "PDGF-bb", "group": "HSUS", "hour": 27.4, "value": 700},
      {"panel": "PDGF-bb", "group": "HSUS", "hour": 34.3, "value": 10500},
      {"panel": "PDGF-bb", "group": "AESD", "hour": 38.1, "value": 5300},
      {"panel": "PDGF-bb", "group": "HSUS", "hour": 37.9, "value": 1100},
      {"panel": "PDGF-bb", "group": "FS", "hour": 43.9, "value": 8900},
      {"panel": "PDGF-bb", "group": "HSUS", "hour": 44.5, "value": 8900},
      {"panel": "PDGF-bb", "group": "FS", "hour": 47.4, "value": 11700},
      {"panel": "PDGF-bb", "group": "HSUS", "hour": 48.2, "value": 1450},
      {"panel": "PDGF-bb", "group": "HSUS", "hour": 52.2, "value": 8000},
      {"panel": "PDGF-bb", "group": "HSUS", "hour": 56.2, "value": 1000},
      {"panel": "PDGF-bb", "group": "AESD", "hour": 61.8, "value": 9700},
      {"panel": "PDGF-bb", "group": "HSUS", "hour": 65.5, "value": 3000},
      {"panel": "PDGF-bb", "group": "FS", "hour": 69.8, "value": 4500},
      {"panel": "PDGF-bb", "group": "FS", "hour": 72, "value": 3000}
    ]
  },
  "concat": [
    {"title": "IL-1β", "width": 134, "height": 68, "layer": [
      {"data": {"name": "cytokines"}, "transform": [{"filter": "datum.panel === 'IL-1β'"}], "mark": "point",
       "encoding": {
         "x": {"field": "hour", "type": "quantitative", "title": null, "scale": {"domain": [0, 72], "nice": false}, "axis": {"values": [0, 12, 24, 36, 48, 60, 72]}},
         "y": {"field": "value", "type": "quantitative", "title": "Log(pg/ml)", "scale": {"type": "log", "domain": [0.1, 1000]}, "axis": {"values": [0.1, 1, 10, 100, 1000], "format": "~g"}},
         "color": {"field": "group", "type": "nominal", "scale": {"domain": ["HSUS", "AESD", "FS"], "range": ["#4472C4", "#ED7D31", "#A5A5A5"]}, "legend": {"title": null, "orient": "none", "legendX": 91, "legendY": -7, "clipHeight": 7}},
         "shape": {"field": "group", "type": "nominal", "scale": {"domain": ["HSUS", "AESD", "FS"], "range": ["diamond", "square", "circle"]}, "legend": {"title": null, "orient": "none", "legendX": 91, "legendY": -7, "clipHeight": 7}}}},
      {"data": {"name": "cutoffs"}, "transform": [{"filter": "datum.panel === 'IL-1β'"}], "mark": "rule",
       "encoding": {"y": {"field": "value", "type": "quantitative"}}}
    ]},
    {"title": "IL-1RA", "width": 134, "height": 68, "layer": [
      {"data": {"name": "cytokines"}, "transform": [{"filter": "datum.panel === 'IL-1RA'"}], "mark": "point",
       "encoding": {
         "x": {"field": "hour", "type": "quantitative", "title": null, "scale": {"domain": [0, 72], "nice": false}, "axis": {"values": [0, 12, 24, 36, 48, 60, 72]}},
         "y": {"field": "value", "type": "quantitative", "title": "Log(pg/ml)", "scale": {"type": "log", "domain": [1, 100000]}, "axis": {"values": [1, 10, 100, 1000, 10000, 100000], "format": "~g"}},
         "color": {"field": "group", "type": "nominal", "legend": null},
         "shape": {"field": "group", "type": "nominal", "legend": null}}},
      {"data": {"name": "cutoffs"}, "transform": [{"filter": "datum.panel === 'IL-1RA'"}], "mark": "rule",
       "encoding": {"y": {"field": "value", "type": "quantitative"}}}
    ]},
    {"title": "IL-4", "width": 134, "height": 68, "layer": [
      {"data": {"name": "cytokines"}, "transform": [{"filter": "datum.panel === 'IL-4'"}], "mark": "point",
       "encoding": {
         "x": {"field": "hour", "type": "quantitative", "title": null, "scale": {"domain": [0, 72], "nice": false}, "axis": {"values": [0, 12, 24, 36, 48, 60, 72]}},
         "y": {"field": "value", "type": "quantitative", "title": "Log(pg/ml)", "scale": {"type": "log", "domain": [0.1, 10]}, "axis": {"values": [0.1, 1, 10], "format": "~g"}},
         "color": {"field": "group", "type": "nominal", "legend": null},
         "shape": {"field": "group", "type": "nominal", "legend": null}}},
      {"data": {"name": "cutoffs"}, "transform": [{"filter": "datum.panel === 'IL-4'"}], "mark": "rule",
       "encoding": {"y": {"field": "value", "type": "quantitative"}}}
    ]},
    {"title": "IL-5", "width": 134, "height": 68, "layer": [
      {"data": {"name": "cytokines"}, "transform": [{"filter": "datum.panel === 'IL-5'"}], "mark": "point",
       "encoding": {
         "x": {"field": "hour", "type": "quantitative", "title": null, "scale": {"domain": [0, 72], "nice": false}, "axis": {"values": [0, 12, 24, 36, 48, 60, 72]}},
         "y": {"field": "value", "type": "quantitative", "title": "Log(pg/ml)", "scale": {"type": "log", "domain": [1, 1000]}, "axis": {"values": [1, 10, 100, 1000], "format": "~g"}},
         "color": {"field": "group", "type": "nominal", "legend": null},
         "shape": {"field": "group", "type": "nominal", "legend": null}}},
      {"data": {"name": "cutoffs"}, "transform": [{"filter": "datum.panel === 'IL-5'"}], "mark": "rule",
       "encoding": {"y": {"field": "value", "type": "quantitative"}}}
    ]},
    {"title": "IL-6", "width": 134, "height": 68, "layer": [
      {"data": {"name": "cytokines"}, "transform": [{"filter": "datum.panel === 'IL-6'"}], "mark": "point",
       "encoding": {
         "x": {"field": "hour", "type": "quantitative", "title": null, "scale": {"domain": [0, 72], "nice": false}, "axis": {"values": [0, 12, 24, 36, 48, 60, 72]}},
         "y": {"field": "value", "type": "quantitative", "title": "Log(pg/ml)", "scale": {"type": "log", "domain": [1, 10000]}, "axis": {"values": [1, 10, 100, 1000, 10000], "format": "~g"}},
         "color": {"field": "group", "type": "nominal", "legend": null},
         "shape": {"field": "group", "type": "nominal", "legend": null}}},
      {"data": {"name": "cutoffs"}, "transform": [{"filter": "datum.panel === 'IL-6'"}], "mark": "rule",
       "encoding": {"y": {"field": "value", "type": "quantitative"}}}
    ]},
    {"title": "IL-8", "width": 134, "height": 68, "layer": [
      {"data": {"name": "cytokines"}, "transform": [{"filter": "datum.panel === 'IL-8'"}], "mark": "point",
       "encoding": {
         "x": {"field": "hour", "type": "quantitative", "title": null, "scale": {"domain": [0, 72], "nice": false}, "axis": {"values": [0, 12, 24, 36, 48, 60, 72]}},
         "y": {"field": "value", "type": "quantitative", "title": "Log(pg/ml)", "scale": {"type": "log", "domain": [1, 10000]}, "axis": {"values": [1, 10, 100, 1000, 10000], "format": "~g"}},
         "color": {"field": "group", "type": "nominal", "legend": null},
         "shape": {"field": "group", "type": "nominal", "legend": null}}},
      {"data": {"name": "cutoffs"}, "transform": [{"filter": "datum.panel === 'IL-8'"}], "mark": "rule",
       "encoding": {"y": {"field": "value", "type": "quantitative"}}}
    ]},
    {"title": "IL-10", "width": 134, "height": 68, "layer": [
      {"data": {"name": "cytokines"}, "transform": [{"filter": "datum.panel === 'IL-10'"}], "mark": "point",
       "encoding": {
         "x": {"field": "hour", "type": "quantitative", "title": null, "scale": {"domain": [0, 72], "nice": false}, "axis": {"values": [0, 12, 24, 36, 48, 60, 72]}},
         "y": {"field": "value", "type": "quantitative", "title": "Log(pg/ml)", "scale": {"type": "log", "domain": [1, 10000]}, "axis": {"values": [1, 10, 100, 1000, 10000], "format": "~g"}},
         "color": {"field": "group", "type": "nominal", "legend": null},
         "shape": {"field": "group", "type": "nominal", "legend": null}}},
      {"data": {"name": "cutoffs"}, "transform": [{"filter": "datum.panel === 'IL-10'"}], "mark": "rule",
       "encoding": {"y": {"field": "value", "type": "quantitative"}}}
    ]},
    {"title": "IL-17", "width": 134, "height": 68, "layer": [
      {"data": {"name": "cytokines"}, "transform": [{"filter": "datum.panel === 'IL-17'"}], "mark": "point",
       "encoding": {
         "x": {"field": "hour", "type": "quantitative", "title": null, "scale": {"domain": [0, 72], "nice": false}, "axis": {"values": [0, 12, 24, 36, 48, 60, 72]}},
         "y": {"field": "value", "type": "quantitative", "title": "Log(pg/ml)", "scale": {"type": "log", "domain": [1, 100]}, "axis": {"values": [1, 10, 100], "format": "~g"}},
         "color": {"field": "group", "type": "nominal", "legend": null},
         "shape": {"field": "group", "type": "nominal", "legend": null}}},
      {"data": {"name": "cutoffs"}, "transform": [{"filter": "datum.panel === 'IL-17'"}], "mark": "rule",
       "encoding": {"y": {"field": "value", "type": "quantitative"}}}
    ]},
    {"title": "Eotaxin", "width": 134, "height": 68, "layer": [
      {"data": {"name": "cytokines"}, "transform": [{"filter": "datum.panel === 'Eotaxin'"}], "mark": "point",
       "encoding": {
         "x": {"field": "hour", "type": "quantitative", "title": null, "scale": {"domain": [-3.3, 72], "nice": false}, "axis": {"values": [0, 12, 24, 36, 48, 60, 72]}},
         "y": {"field": "value", "type": "quantitative", "title": "Log(pg/ml)", "scale": {"type": "log", "domain": [1, 1000]}, "axis": {"values": [1, 10, 100, 1000], "format": "~g"}},
         "color": {"field": "group", "type": "nominal", "legend": null},
         "shape": {"field": "group", "type": "nominal", "legend": null}}},
      {"data": {"name": "cutoffs"}, "transform": [{"filter": "datum.panel === 'Eotaxin'"}], "mark": "rule",
       "encoding": {"y": {"field": "value", "type": "quantitative"}}}
    ]},
    {"title": "FGF", "width": 134, "height": 68, "layer": [
      {"data": {"name": "cytokines"}, "transform": [{"filter": "datum.panel === 'FGF'"}], "mark": "point",
       "encoding": {
         "x": {"field": "hour", "type": "quantitative", "title": null, "scale": {"domain": [-3.3, 72], "nice": false}, "axis": {"values": [0, 12, 24, 36, 48, 60, 72]}},
         "y": {"field": "value", "type": "quantitative", "title": "Log(pg/ml)", "scale": {"type": "log", "domain": [1, 1000]}, "axis": {"values": [1, 10, 100, 1000], "format": "~g"}},
         "color": {"field": "group", "type": "nominal", "legend": null},
         "shape": {"field": "group", "type": "nominal", "legend": null}}},
      {"data": {"name": "cutoffs"}, "transform": [{"filter": "datum.panel === 'FGF'"}], "mark": "rule",
       "encoding": {"y": {"field": "value", "type": "quantitative"}}}
    ]},
    {"title": "G-CSF", "width": 134, "height": 68, "layer": [
      {"data": {"name": "cytokines"}, "transform": [{"filter": "datum.panel === 'G-CSF'"}], "mark": "point",
       "encoding": {
         "x": {"field": "hour", "type": "quantitative", "title": null, "scale": {"domain": [-3.3, 72], "nice": false}, "axis": {"values": [0, 12, 24, 36, 48, 60, 72]}},
         "y": {"field": "value", "type": "quantitative", "title": "Log(pg/ml)", "scale": {"type": "log", "domain": [1, 100000]}, "axis": {"values": [1, 10, 100, 1000, 10000, 100000], "format": "~g"}},
         "color": {"field": "group", "type": "nominal", "legend": null},
         "shape": {"field": "group", "type": "nominal", "legend": null}}},
      {"data": {"name": "cutoffs"}, "transform": [{"filter": "datum.panel === 'G-CSF'"}], "mark": "rule",
       "encoding": {"y": {"field": "value", "type": "quantitative"}}}
    ]},
    {"title": "INF-γ", "width": 134, "height": 68, "layer": [
      {"data": {"name": "cytokines"}, "transform": [{"filter": "datum.panel === 'INF-γ'"}], "mark": "point",
       "encoding": {
         "x": {"field": "hour", "type": "quantitative", "title": null, "scale": {"domain": [-3.3, 72], "nice": false}, "axis": {"values": [0, 12, 24, 36, 48, 60, 72]}},
         "y": {"field": "value", "type": "quantitative", "title": "Log(pg/ml)", "scale": {"type": "log", "domain": [1, 100]}, "axis": {"values": [1, 10, 100], "format": "~g"}},
         "color": {"field": "group", "type": "nominal", "legend": null},
         "shape": {"field": "group", "type": "nominal", "legend": null}}},
      {"data": {"name": "cutoffs"}, "transform": [{"filter": "datum.panel === 'INF-γ'"}], "mark": "rule",
       "encoding": {"y": {"field": "value", "type": "quantitative"}}}
    ]},
    {"title": "IP-10", "width": 134, "height": 68, "layer": [
      {"data": {"name": "cytokines"}, "transform": [{"filter": "datum.panel === 'IP-10'"}], "mark": "point",
       "encoding": {
         "x": {"field": "hour", "type": "quantitative", "title": null, "scale": {"domain": [0, 72], "nice": false}, "axis": {"values": [0, 12, 24, 36, 48, 60, 72]}},
         "y": {"field": "value", "type": "quantitative", "title": "Log(pg/ml)", "scale": {"type": "log", "domain": [1, 100000]}, "axis": {"values": [1, 10, 100, 1000, 10000, 100000], "format": "~g"}},
         "color": {"field": "group", "type": "nominal", "legend": null},
         "shape": {"field": "group", "type": "nominal", "legend": null}}},
      {"data": {"name": "cutoffs"}, "transform": [{"filter": "datum.panel === 'IP-10'"}], "mark": "rule",
       "encoding": {"y": {"field": "value", "type": "quantitative"}}}
    ]},
    {"title": "MCP-1", "width": 134, "height": 68, "layer": [
      {"data": {"name": "cytokines"}, "transform": [{"filter": "datum.panel === 'MCP-1'"}], "mark": "point",
       "encoding": {
         "x": {"field": "hour", "type": "quantitative", "title": null, "scale": {"domain": [0, 72], "nice": false}, "axis": {"values": [0, 12, 24, 36, 48, 60, 72]}},
         "y": {"field": "value", "type": "quantitative", "title": "Log(pg/ml)", "scale": {"type": "log", "domain": [1, 10000]}, "axis": {"values": [1, 10, 100, 1000, 10000], "format": "~g"}},
         "color": {"field": "group", "type": "nominal", "legend": null},
         "shape": {"field": "group", "type": "nominal", "legend": null}}},
      {"data": {"name": "cutoffs"}, "transform": [{"filter": "datum.panel === 'MCP-1'"}], "mark": "rule",
       "encoding": {"y": {"field": "value", "type": "quantitative"}}}
    ]},
    {"title": "MIP-1a", "width": 134, "height": 68, "layer": [
      {"data": {"name": "cytokines"}, "transform": [{"filter": "datum.panel === 'MIP-1a'"}], "mark": "point",
       "encoding": {
         "x": {"field": "hour", "type": "quantitative", "title": null, "scale": {"domain": [0, 72], "nice": false}, "axis": {"values": [0, 12, 24, 36, 48, 60, 72]}},
         "y": {"field": "value", "type": "quantitative", "title": "Log(pg/ml)", "scale": {"type": "log", "domain": [0.1, 1000]}, "axis": {"values": [0.1, 1, 10, 100, 1000], "format": "~g"}},
         "color": {"field": "group", "type": "nominal", "legend": null},
         "shape": {"field": "group", "type": "nominal", "legend": null}}},
      {"data": {"name": "cutoffs"}, "transform": [{"filter": "datum.panel === 'MIP-1a'"}], "mark": "rule",
       "encoding": {"y": {"field": "value", "type": "quantitative"}}}
    ]},
    {"title": "PDGF-bb", "width": 134, "height": 68, "layer": [
      {"data": {"name": "cytokines"}, "transform": [{"filter": "datum.panel === 'PDGF-bb'"}], "mark": "point",
       "encoding": {
         "x": {"field": "hour", "type": "quantitative", "title": null, "scale": {"domain": [0, 72], "nice": false}, "axis": {"values": [0, 12, 24, 36, 48, 60, 72]}},
         "y": {"field": "value", "type": "quantitative", "title": "Log(pg/ml)", "scale": {"type": "log", "domain": [1, 100000]}, "axis": {"values": [1, 10, 100, 1000, 10000, 100000], "format": "~g"}},
         "color": {"field": "group", "type": "nominal", "legend": null},
         "shape": {"field": "group", "type": "nominal", "legend": null}}},
      {"data": {"name": "cutoffs"}, "transform": [{"filter": "datum.panel === 'PDGF-bb'"}], "mark": "rule",
       "encoding": {"y": {"field": "value", "type": "quantitative"}}}
    ]}
  ],
  "config": {
    "font": "Liberation Serif",
    "view": {"stroke": null},
    "title": {"font": "Liberation Serif", "fontSize": 18, "fontWeight": "normal", "color": "black", "offset": -20, "frame": "group", "anchor": "middle"},
    "axis": {
      "labelFont": "Liberation Serif", "labelFontSize": 7, "labelFontWeight": "bold", "labelColor": "#262626",
      "ticks": false, "grid": false, "domainColor": "#d9d9d9",
      "titleFont": "Liberation Serif", "titleFontSize": 7, "titleFontWeight": "bold", "titleColor": "#262626"
    },
    "axisX": {"labelFlush": false, "labelPadding": 7},
    "axisY": {"titleAngle": 0, "titleAlign": "left", "titleBaseline": "alphabetic", "titleX": -26, "titleY": -14, "labelPadding": 6},
    "point": {"filled": true, "opacity": 1, "size": 11},
    "rule": {"color": "#595959", "strokeDash": [1.5, 1.5], "strokeWidth": 1},
    "legend": {
      "strokeColor": "black", "strokeWidth": 1.5, "padding": 4, "fillColor": "white",
      "labelFont": "Liberation Serif", "labelFontSize": 7.5, "labelFontWeight": "bold", "labelColor": "#262626",
      "symbolSize": 30, "rowPadding": 0, "labelOffset": 3, "symbolOpacity": 1, "clipHeight": 7
    }
  }
}
